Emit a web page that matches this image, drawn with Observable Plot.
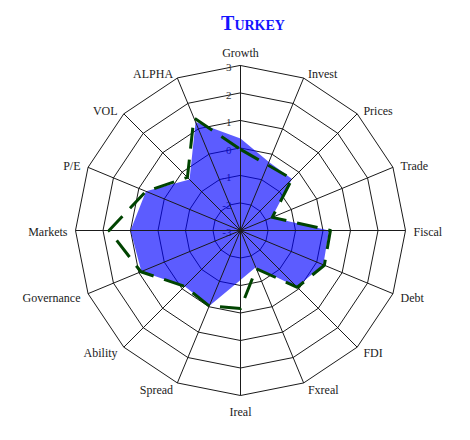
<!DOCTYPE html>
<html>
<head>
<meta charset="utf-8">
<script src="https://cdn.jsdelivr.net/npm/d3@7"></script>
<script src="https://cdn.jsdelivr.net/npm/@observablehq/plot@0.6"></script>
<style>
  html, body { margin: 0; padding: 0; background: #fff; }
  #wrap { width: 470px; height: 440px; position: relative; overflow: hidden; }
  #title { height: 40px; position: relative; }
  #title span { position: absolute; left: 0; width: 506px; top: 13px; text-align: center;
    font-family: "Liberation Serif", "DejaVu Serif", serif; font-weight: bold; font-size: 20px;
    line-height: 20px; font-variant: small-caps; color: #1414ff; }
</style>
</head>
<body>
<div id="wrap">
  <div id="title"><span>Turkey</span></div>
  <div id="chart"></div>
</div>
<script>
// ---- data ----
const axes = ["Growth", "Invest", "Prices", "Trade", "Fiscal", "Debt", "FDI", "Fxreal",
              "Ireal", "Spread", "Ability", "Governance", "Markets", "P/E", "VOL", "ALPHA"];
const current  = [0.35, -0.3, -0.35, -1.77, 0.22, 0.26, -0.1, -1.55,
                  -1.2, -0.03, -0.13, 0.9, 1.0, 0.72, -0.38, 1.27];
const previous = [-0.05, -0.42, -0.35, -1.75, 0.27, 0.3, -0.08, -1.5,
                  -0.16, -0.03, -0.13, 0.92, 1.78, 0.72, -0.27, 1.43];
const ticks = [-3, -2, -1, 0, 1, 2, 3];
const minV = -3, maxV = 3;

// ---- geometry helpers (data units: radius = value - minV) ----
const unit = 27.5;            // pixels per value unit
const n = axes.length;
const ang = i => (2 * Math.PI * i) / n;
const R = maxV - minV;
const px = p => p / unit;     // pixel offset -> data units

const ringData = [];
for (const t of ticks.filter(t => t > minV))
  for (let i = 0; i < n; ++i)
    ringData.push({level: t, x: (t - minV) * Math.sin(ang(i)), y: (t - minV) * Math.cos(ang(i))});

const spokes = axes.map((a, i) => ({x2: R * Math.sin(ang(i)), y2: R * Math.cos(ang(i))}));

const poly = vals => vals.map((v, i) => ({axis: axes[i], x: (v - minV) * Math.sin(ang(i)), y: (v - minV) * Math.cos(ang(i))}));
const curPts = poly(current);
const prevPts = poly(previous);

const labels = axes.map((name, i) => {
  const s = Math.sin(ang(i)), c = Math.cos(ang(i));
  let x = R * s, y = R * c, anchor;
  if (Math.abs(s) < 0.01) {
    anchor = "middle";
    y += c > 0 ? px(9) : -px(20);
  } else {
    anchor = s > 0 ? "start" : "end";
    x += Math.sign(s) * px(2 + 6 * Math.abs(s));
    y -= px(5.5 - 6.5 * c);
  }
  return {name, x, y, anchor};
});

const tickLabels = ticks.map(t => ({label: String(t), x: -px(9), y: (t - minV) - px(2)}));

const W = 470, H = 400, cx = 240, cy = 190;
const chart = Plot.plot({
  width: W, height: H,
  marginTop: 0, marginRight: 0, marginBottom: 0, marginLeft: 0,
  x: {domain: [-cx / unit, (W - cx) / unit], axis: null},
  y: {domain: [-(H - cy) / unit, cy / unit], axis: null},
  style: {fontFamily: "'Liberation Serif', 'DejaVu Serif', serif", background: "#fff", overflow: "visible"},
  marks: [
    Plot.line(ringData, {x: "x", y: "y", z: "level", curve: "linear-closed", stroke: "#1a1a1a", strokeWidth: 1}),
    Plot.text(tickLabels, {x: "x", y: "y", text: "label", textAnchor: "end", lineAnchor: "middle", fontSize: 11, fill: "#333"}),
    Plot.line(curPts, {x: "x", y: "y", curve: "linear-closed", fill: "#0000ff", fillOpacity: 0.64, stroke: "none"}),
    Plot.link(spokes, {x1: 0, y1: 0, x2: "x2", y2: "y2", stroke: "#1a1a1a", strokeWidth: 1}),
    Plot.line(prevPts, {x: "x", y: "y", curve: "linear-closed", stroke: "#004400", strokeWidth: 3, strokeDasharray: "21,11", strokeLinecap: "butt"}),
    ...["start", "middle", "end"].map(a =>
      Plot.text(labels.filter(d => d.anchor === a), {x: "x", y: "y", text: "name", textAnchor: a, lineAnchor: "bottom", fontSize: 12, fill: "#222"}))
  ]
});
document.getElementById("chart").appendChild(chart);
</script>
</body>
</html>
